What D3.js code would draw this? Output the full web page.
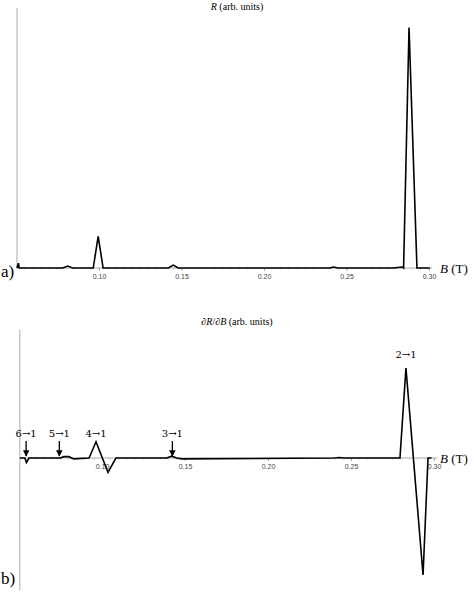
<!DOCTYPE html>
<html><head><meta charset="utf-8">
<script src="https://cdn.jsdelivr.net/npm/d3@7"></script>
<style>body{margin:0;background:#fff}text{font-family:"Liberation Serif",serif}</style>
</head><body><svg id="c" width="474" height="594"></svg>
<script>
// panel a: resistance R(B)
const bA = [0.0503,0.0512,0.0516,0.052,0.078,0.081,0.084,0.0965,0.0995,0.1025,0.142,0.145,0.148,0.24,0.242,0.245,0.278,0.2838,0.2846,0.2879,0.2927,0.3005];
const rA = [0,0.02,0,0,0,0.008,0,0,0.13,0,0,0.012,0,0,0.004,0,0,0.004,0,0.99,0,0];
// panel b: dR/dB
const bB = [0.0505,0.0535,0.0545,0.056,0.075,0.077,0.08,0.083,0.0922,0.0964,0.1036,0.1084,0.139,0.142,0.145,0.148,0.24,0.243,0.246,0.2795,0.2831,0.2934,0.2964,0.2985];
const dB = [0,0,-0.05,0,0,0.015,0.015,-0.01,0,0.18,-0.16,0,0,0.02,0,-0.01,0,0.005,0,0,1,-1.3,0,0];
const ticks = [0.10,0.15,0.20,0.25,0.30];
const notes = [{lab:"6→1",b:0.0543,arrow:true},{lab:"5→1",b:0.0743,arrow:true},{lab:"4→1",b:0.0964,arrow:false},{lab:"3→1",b:0.1424,arrow:true}];

const svg = d3.select("#c");
const defs = svg.append("defs");
defs.append("marker").attr("id","ah").attr("viewBox","0 0 10 10").attr("refX",9).attr("refY",5)
  .attr("markerWidth",5).attr("markerHeight",5).attr("orient","auto")
  .append("path").attr("d","M0,0L10,5L0,10z").attr("fill","#000");

function panel(xs, ys, x0, x1, yTop, y0, yBot, ydom, axTop, lab, title, titleY) {
  const x = d3.scaleLinear().domain([0.10,0.30]).range([x0,x1]);
  const y = d3.scaleLinear().domain(ydom).range([yBot,yTop]);
  const g = svg.append("g");
  g.append("line").attr("x1",x(xs[0])).attr("x2",x(xs[0])).attr("y1",axTop).attr("y2",yBot+ (ydom[0]<0?15:0)).attr("stroke","#aaa");
  const ax = g.append("g").attr("transform",`translate(0,${y(0)})`)
    .call(d3.axisBottom(x).tickValues(ticks).tickFormat(d3.format(".2f")).tickSize(3));
  ax.select(".domain").attr("stroke","#aaa").attr("d",`M${x(xs[0])},0H${x(0.302)}`);
  ax.selectAll(".tick line").attr("stroke","#aaa");
  ax.selectAll("text").attr("fill","#444").style("font-size","7px").style("font-family","Liberation Sans");
  ax.append("g").selectAll("line").data(d3.range(0.055,0.301,0.005)).join("line")
    .attr("x1",d=>x(d)).attr("x2",d=>x(d)).attr("y1",0).attr("y2",1.5).attr("stroke","#bbb");
  g.append("path").datum(d3.zip(xs,ys)).attr("fill","none").attr("stroke","#000").attr("stroke-width",1.6)
    .attr("stroke-linejoin","miter")
    .attr("d",d3.line().x(d=>x(d[0])).y(d=>y(d[1])));
  g.append("text").attr("x",440).attr("y",y(0)+5).style("font-size","13px")
    .html('<tspan font-style="italic">B</tspan> (T)');
  g.append("text").attr("x",1).attr("y",y(0)+ (ydom[0]<0?126:9)).style("font-size","17px").text(lab);
  g.append("text").attr("x",237).attr("y",titleY).attr("text-anchor","middle").style("font-size","10px").html(title);
  return {x,y};
}

panel(bA, rA, 99, 429, 25, 268, 268, [0,1], 8, "a)", '<tspan font-style="italic">R</tspan> (arb. units)', 10);
const p = panel(bB, dB, 102, 434, 368, 458, 575, [-1.3,1], 330, "b)", '∂<tspan font-style="italic">R</tspan>/∂<tspan font-style="italic">B</tspan> (arb. units)', 325);

notes.forEach(n => {
  svg.append("text").attr("x",p.x(n.b)).attr("y",437).attr("text-anchor","middle").style("font-size","10px").style("font-family","DejaVu Serif").text(n.lab);
  if (n.arrow) svg.append("line").attr("x1",p.x(n.b)).attr("x2",p.x(n.b)).attr("y1",441).attr("y2",456)
    .attr("stroke","#000").attr("stroke-width",1.3).attr("marker-end","url(#ah)");
});
svg.append("text").attr("x",p.x(0.2831)).attr("y",358).attr("text-anchor","middle").style("font-size","10px").style("font-family","DejaVu Serif").text("2→1");
</script></body></html>
